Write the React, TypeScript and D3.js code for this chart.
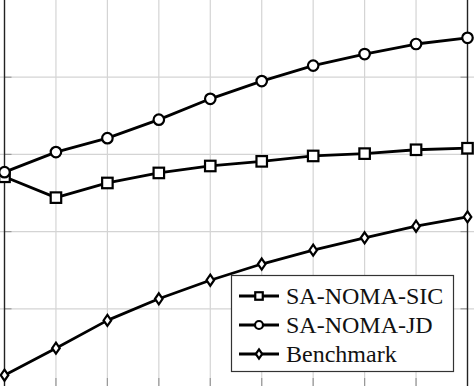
import { useEffect, useRef } from 'react';
import * as d3 from 'd3';

const xValues = [1, 2, 3, 4, 5, 6, 7, 8, 9, 10];
const sicValues = [2.71, 2.44, 2.63, 2.76, 2.85, 2.91, 2.98, 3.01, 3.06, 3.08];
const jdValues = [2.77, 3.03, 3.21, 3.45, 3.72, 3.95, 4.15, 4.3, 4.43, 4.51];
const benchValues = [0.14, 0.49, 0.85, 1.13, 1.37, 1.58, 1.76, 1.92, 2.07, 2.19];
const yTicks = [0, 1, 2, 3, 4, 5];
const legendLabels = ['SA-NOMA-SIC', 'SA-NOMA-JD', 'Benchmark'];

const W = 474;
const H = 386;

function drawMarker(g: any, kind: string, cx: number, cy: number, s: number) {
  if (kind === 'square') {
    g.append('rect')
      .attr('x', cx - s / 2).attr('y', cy - s / 2)
      .attr('width', s).attr('height', s)
      .attr('fill', '#fff').attr('stroke', '#000').attr('stroke-width', 2.2);
  } else if (kind === 'circle') {
    g.append('circle')
      .attr('cx', cx).attr('cy', cy).attr('r', s / 2)
      .attr('fill', '#fff').attr('stroke', '#000').attr('stroke-width', 2.2);
  } else {
    const w = s * 0.38, h = s * 0.55;
    g.append('path')
      .attr('d', `M${cx},${cy - h}L${cx + w},${cy}L${cx},${cy + h}L${cx - w},${cy}Z`)
      .attr('fill', '#fff').attr('stroke', '#000').attr('stroke-width', 2.2);
  }
}

export default function App() {
  const svgRef = useRef<SVGSVGElement>(null);

  useEffect(() => {
    const svg = d3.select(svgRef.current);
    svg.selectAll('*').remove();

    const x = d3.scaleLinear().domain([1, 10]).range([4.5, 467.5]);
    const y = d3.scaleLinear().domain([0, 5]).range([386, 0]);

    svg.append('rect').attr('width', W).attr('height', H).attr('fill', '#fff');

    const grid = svg.append('g');
    xValues.slice(1, -1).forEach(v => {
      grid.append('line')
        .attr('x1', x(v)).attr('x2', x(v)).attr('y1', 0).attr('y2', H)
        .attr('stroke', '#d4d4d4').attr('stroke-width', 1.2);
      grid.append('line')
        .attr('x1', x(v)).attr('x2', x(v)).attr('y1', H - 8).attr('y2', H)
        .attr('stroke', '#999').attr('stroke-width', 1.2);
    });
    yTicks.slice(1, -1).forEach(v => {
      grid.append('line')
        .attr('x1', 0).attr('x2', W).attr('y1', y(v)).attr('y2', y(v))
        .attr('stroke', '#d4d4d4').attr('stroke-width', 1.2);
      grid.append('line')
        .attr('x1', x(1)).attr('x2', x(1) + 7).attr('y1', y(v)).attr('y2', y(v))
        .attr('stroke', '#999').attr('stroke-width', 1.2);
      grid.append('line')
        .attr('x1', x(10) - 7).attr('x2', x(10)).attr('y1', y(v)).attr('y2', y(v))
        .attr('stroke', '#999').attr('stroke-width', 1.2);
    });

    // axis frame (left and right edges visible)
    [1, 10].forEach(v => {
      svg.append('line')
        .attr('x1', x(v)).attr('x2', x(v)).attr('y1', 0).attr('y2', H)
        .attr('stroke', '#222').attr('stroke-width', 1.4);
    });

    const series = [
      { values: sicValues, marker: 'square', size: 10.5 },
      { values: jdValues, marker: 'circle', size: 10.5 },
      { values: benchValues, marker: 'diamond', size: 10 }
    ];

    const line = d3.line<number>()
      .x((d, i) => x(xValues[i]))
      .y(d => y(d));

    series.forEach(s => {
      svg.append('path')
        .datum(s.values)
        .attr('d', line)
        .attr('fill', 'none')
        .attr('stroke', '#000')
        .attr('stroke-width', 2.8)
        .attr('stroke-linejoin', 'round');
      const mg = svg.append('g');
      s.values.forEach((v, i) => drawMarker(mg, s.marker, x(xValues[i]), y(v), s.size));
    });

    // legend
    const legend = svg.append('g');
    legend.append('rect')
      .attr('x', 231.5).attr('y', 275.5)
      .attr('width', 222).attr('height', 96)
      .attr('fill', '#fff').attr('stroke', '#333').attr('stroke-width', 1.2);

    const legendMarkers = ['square', 'circle', 'diamond'];
    const legendSizes = [7.5, 8, 8.5];
    legendLabels.forEach((label, i) => {
      const cy = 296 + i * 29;
      legend.append('line')
        .attr('x1', 239).attr('x2', 279).attr('y1', cy).attr('y2', cy)
        .attr('stroke', '#000').attr('stroke-width', 2.8);
      drawMarker(legend, legendMarkers[i], 259, cy, legendSizes[i]);
      legend.append('text')
        .attr('x', 286).attr('y', cy + 7.5)
        .attr('fill', '#111')
        .style('font-family', '"Liberation Serif", "Times New Roman", serif')
        .style('font-size', '24px')
        .text(label);
    });
  }, []);

  return (
    <svg
      ref={svgRef}
      width={W}
      height={H}
      style={{ position: 'absolute', left: 0, top: 0, display: 'block' }}
    />
  );
}
